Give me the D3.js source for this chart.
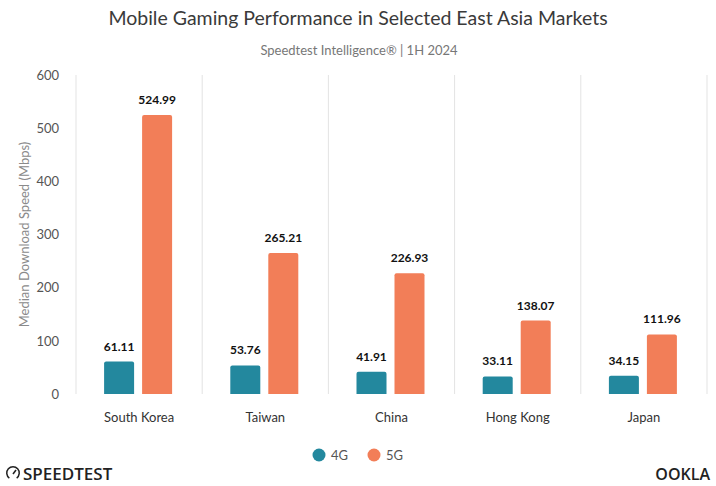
<!DOCTYPE html>
<html>
<head>
<meta charset="UTF-8">
<title>Mobile Gaming Performance</title>
<script src="https://cdn.jsdelivr.net/npm/d3@7"></script>
<style>
    body { margin: 0; background: #fff; }
    svg { display: block; font-family: Lato, "Open Sans", sans-serif; }
</style>
</head>
<body>
<svg id="chart" width="716" height="486"></svg>
<script>
    var markets = ['South Korea', 'Taiwan', 'China', 'Hong Kong', 'Japan'];
    var series = ['4G', '5G'];
    var values4G = [61.11, 53.76, 41.91, 33.11, 34.15];
    var values5G = [524.99, 265.21, 226.93, 138.07, 111.96];
    var yTicks = [0, 100, 200, 300, 400, 500, 600];
    var colors = ['#23889e', '#f27e58'];

    var svg = d3.select('#chart');
    var plotLeft = 76, plotRight = 707, plotTop = 75, plotBottom = 394;

    var x = d3.scaleBand().domain(markets).range([plotLeft, plotRight]);
    var y = d3.scaleLinear().domain([0, 600]).range([plotBottom, plotTop]);

    // title
    svg.append('text').attr('x', 358).attr('y', 25).attr('text-anchor', 'middle')
        .attr('font-size', 19.5).attr('fill', '#3a3a3a').text('Mobile Gaming Performance in Selected East Asia Markets');
    svg.append('text').attr('x', 359).attr('y', 55).attr('text-anchor', 'middle')
        .attr('font-size', 13).attr('fill', '#777').text('Speedtest Intelligence® | 1H 2024');

    // separators
    var seps = markets.map(function (m) { return x(m); }).concat([plotRight]);
    svg.selectAll('line.sep').data(seps).enter().append('line')
        .attr('x1', function (d) { return d; }).attr('x2', function (d) { return d; })
        .attr('y1', plotTop).attr('y2', plotBottom)
        .attr('stroke', '#e3e3e3').attr('stroke-width', 1);

    // y axis
    var yAxis = svg.append('g').attr('transform', 'translate(' + (plotLeft - 14) + ',0)')
        .call(d3.axisLeft(y).tickValues(yTicks).tickSize(0));
    yAxis.select('.domain').remove();
    yAxis.selectAll('text').attr('font-size', 13).attr('fill', '#555').attr('font-family', 'Lato, sans-serif');

    svg.append('text')
        .attr('transform', 'translate(29,' + ((plotTop + plotBottom) / 2) + ') rotate(-90)')
        .attr('text-anchor', 'middle').attr('font-size', 13).attr('fill', '#8a8a8a')
        .text('Median Download Speed (Mbps)');

    // x axis
    var xAxis = svg.append('g').attr('transform', 'translate(0,' + (plotBottom + 16) + ')')
        .call(d3.axisBottom(x).tickSize(0));
    xAxis.select('.domain').remove();
    xAxis.selectAll('text').attr('font-size', 13).attr('fill', '#333').attr('font-family', 'Lato, sans-serif');

    // bars
    var barW = 30, gap = 8;
    var data = [];
    markets.forEach(function (m, i) {
        data.push({ m: m, s: 0, v: values4G[i] });
        data.push({ m: m, s: 1, v: values5G[i] });
    });
    function bx(d) {
        var c = x(d.m) + x.bandwidth() / 2 - 1;
        return d.s === 0 ? c - gap / 2 - barW : c + gap / 2;
    }
    svg.selectAll('path.bar').data(data).enter().append('path')
        .attr('fill', function (d) { return colors[d.s]; })
        .attr('d', function (d) {
            var x0 = bx(d), y0 = y(d.v), r = 2;
            return 'M' + x0 + ',' + plotBottom + 'V' + (y0 + r) + 'Q' + x0 + ',' + y0 + ' ' + (x0 + r) + ',' + y0 +
                'H' + (x0 + barW - r) + 'Q' + (x0 + barW) + ',' + y0 + ' ' + (x0 + barW) + ',' + (y0 + r) +
                'V' + plotBottom + 'Z';
        });
    svg.selectAll('text.val').data(data).enter().append('text')
        .attr('x', function (d) { return bx(d) + barW / 2; })
        .attr('y', function (d) { return y(d.v) - 11; })
        .attr('text-anchor', 'middle').attr('font-size', 12).attr('font-weight', 'bold').attr('fill', '#111')
        .text(function (d) { return d.v.toFixed(2); });

    // legend
    var lg = svg.selectAll('g.lg').data(series).enter().append('g')
        .attr('transform', function (d, i) { return 'translate(' + (319 + i * 55) + ',455)'; });
    lg.append('circle').attr('r', 6.5).attr('fill', function (d, i) { return colors[i]; });
    lg.append('text').attr('x', 12).attr('y', 5).attr('font-size', 13).attr('fill', '#555').text(function (d) { return d; });

    // logos
    var sp = svg.append('g').attr('transform', 'translate(13,473)');
    sp.append('path').attr('d', d3.arc()({ innerRadius: 5.5, outerRadius: 7, startAngle: Math.PI * 1.2, endAngle: Math.PI * 2.8 }))
        .attr('fill', '#222');
    sp.append('line').attr('x1', 0).attr('y1', 1).attr('x2', 3).attr('y2', -3).attr('stroke', '#222').attr('stroke-width', 1.6);
    sp.append('text').attr('x', 10).attr('y', 6.5).attr('font-size', 17).attr('font-weight', 600)
        .attr('fill', '#222').attr('font-family', '"Open Sans", sans-serif').text('SPEEDTEST');
    svg.append('text').attr('x', 710).attr('y', 480).attr('text-anchor', 'end').attr('font-size', 16)
        .attr('font-weight', 600).attr('fill', '#222').attr('font-family', '"Open Sans", sans-serif').text('OOKLA');
</script>
</body>
</html>
